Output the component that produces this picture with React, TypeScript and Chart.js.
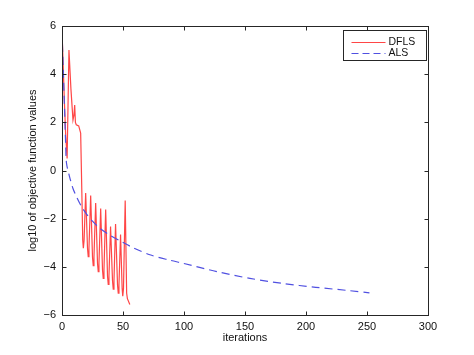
import React, { useEffect, useRef } from "react";
import { Chart, registerables } from "chart.js";

Chart.register(...registerables);

const seriesLabels = ["DFLS", "ALS"];
const xTitle = "iterations";
const yTitle = "log10 of objective function values";
const xTicks = [0, 50, 100, 150, 200, 250, 300];
const yTicks = [-6, -4, -2, 0, 2, 4, 6];

const dflsX = [
  0, 1, 2, 3, 4.2, 5.7, 7.3, 9.0, 9.8, 10.4, 11.0, 11.7, 13.7, 15.3, 16.3, 17.0, 17.5, 18.1,
  19.4, 20.9, 21.5, 22.1, 23.5, 25.0, 25.6, 26.2, 27.6, 29.1, 29.7, 30.3, 31.7, 33.2, 33.8, 34.4,
  35.8, 37.3, 37.9, 38.5, 39.8, 41.4, 42.0, 42.6, 43.9, 45.5, 46.1, 46.7, 48.0, 49.3, 49.8, 50.4,
  51.8, 53.0, 53.6, 55.6,
];
const dflsY = [
  5.8, 4.3, 2.8, 1.5, 0.5, 5.0, 3.4, 2.1, 2.3, 2.72, 2.0, 1.9, 1.85, 1.55, -1.0, -2.9, -3.23, -2.9,
  -0.94, -3.23, -3.58, -3.23, -1.04, -3.6, -3.95, -3.6, -1.35, -3.85, -4.2, -3.85, -1.58, -4.13, -4.48, -4.13,
  -1.62, -4.38, -4.73, -4.38, -2.33, -4.58, -4.93, -4.58, -2.22, -4.74, -5.09, -4.74, -2.66, -4.9, -5.22, -4.9,
  -1.25, -5.1, -5.32, -5.56,
];

const alsX = [0, 1, 2, 3, 3.7, 6, 9, 12, 16, 20, 25, 31, 39, 49, 58, 72, 88, 100, 127, 154, 181, 208, 236, 252];
const alsY = [
  5.8, 4.2, 2.7, 1.1, 0.3, -0.22, -0.75, -1.1, -1.5, -1.8, -2.1, -2.4, -2.68, -2.96, -3.2, -3.5, -3.72,
  -3.86, -4.2, -4.48, -4.69, -4.85, -4.99, -5.08,
];

const FONT = "'Liberation Sans', Arial, Helvetica, sans-serif";
const RED = "rgb(255,70,70)";
const BLUE = "rgb(80,80,225)";

const framePlugin = {
  id: "matlabFrame",
  afterDatasetsDraw(chart: any) {
    const { ctx, chartArea: a, scales } = chart;
    ctx.save();
    const L = Math.round(a.left) + 0.5;
    const R = Math.round(a.right) + 0.5;
    const T = Math.round(a.top) + 0.5;
    const B = Math.round(a.bottom) + 0.5;
    ctx.strokeStyle = "#262626";
    ctx.lineWidth = 1;
    ctx.setLineDash([]);
    ctx.strokeRect(L, T, R - L, B - T);
    const tl = 4;
    ctx.beginPath();
    for (const v of xTicks) {
      const px = Math.round(scales.x.getPixelForValue(v)) + 0.5;
      if (Math.abs(px - L) < 2 || Math.abs(px - R) < 2) continue;
      ctx.moveTo(px, B);
      ctx.lineTo(px, B - tl);
      ctx.moveTo(px, T);
      ctx.lineTo(px, T + tl);
    }
    for (const v of yTicks) {
      const py = Math.round(scales.y.getPixelForValue(v)) + 0.5;
      if (Math.abs(py - T) < 2 || Math.abs(py - B) < 2) continue;
      ctx.moveTo(L, py);
      ctx.lineTo(L + tl, py);
      ctx.moveTo(R, py);
      ctx.lineTo(R - tl, py);
    }
    ctx.stroke();

    // legend
    const boxR = R - 2;
    const boxL = boxR - 83;
    const boxT = T + 4;
    const boxH = 30;
    ctx.fillStyle = "#fff";
    ctx.fillRect(boxL, boxT, boxR - boxL, boxH);
    ctx.strokeStyle = "#262626";
    ctx.strokeRect(boxL, boxT, boxR - boxL, boxH);
    const rows = [
      { label: seriesLabels[0], color: RED, dash: [] as number[], y: boxT + 12 },
      { label: seriesLabels[1], color: BLUE, dash: [7, 4], y: boxT + 23 },
    ];
    ctx.font = `10.5px ${FONT}`;
    ctx.textBaseline = "middle";
    ctx.textAlign = "left";
    for (const r of rows) {
      ctx.beginPath();
      ctx.strokeStyle = r.color;
      ctx.lineWidth = 1.2;
      ctx.setLineDash(r.dash);
      ctx.moveTo(boxL + 8, r.y);
      ctx.lineTo(boxL + 42, r.y);
      ctx.stroke();
      ctx.setLineDash([]);
      ctx.fillStyle = "#111";
      ctx.fillText(r.label, boxL + 45, r.y);
    }
    ctx.restore();
  },
};

export default function App() {
  const ref = useRef<HTMLCanvasElement | null>(null);
  useEffect(() => {
    document.body.style.margin = "0";
    const canvas = ref.current;
    if (!canvas) return;
    const dfls = dflsX.map((x, i) => ({ x, y: dflsY[i] }));
    const als = alsX.map((x, i) => ({ x, y: alsY[i] }));
    const chart = new Chart(canvas, {
      type: "line",
      data: {
        datasets: [
          {
            label: seriesLabels[0],
            data: dfls,
            borderColor: RED,
            borderWidth: 1.2,
            pointRadius: 0,
            tension: 0,
            order: 2,
          },
          {
            label: seriesLabels[1],
            data: als,
            borderColor: BLUE,
            borderWidth: 1.2,
            borderDash: [8, 5],
            pointRadius: 0,
            tension: 0.3,
            order: 1,
          },
        ],
      },
      options: {
        animation: false,
        responsive: false,
        devicePixelRatio: 1,
        layout: { padding: { left: 0, right: 46, top: 26, bottom: 0 } },
        plugins: { legend: { display: false }, tooltip: { enabled: false } },
        scales: {
          x: {
            type: "linear",
            min: 0,
            max: 300,
            afterFit: (s: any) => {
              s.height = 40;
            },
            afterBuildTicks: (s: any) => {
              s.ticks = xTicks.map((v) => ({ value: v }));
            },
            grid: { display: false, drawTicks: false },
            border: { display: false },
            ticks: {
              padding: 5,
              color: "#111",
              font: { family: FONT, size: 11 },
              maxRotation: 0,
              callback: (v: any) => String(v),
            },
            title: {
              display: true,
              text: xTitle,
              color: "#111",
              font: { family: FONT, size: 11 },
              padding: { top: 0, bottom: 10 },
            },
          },
          y: {
            type: "linear",
            min: -6,
            max: 6,
            afterFit: (s: any) => {
              s.width = 62;
            },
            afterBuildTicks: (s: any) => {
              s.ticks = yTicks.map((v) => ({ value: v }));
            },
            grid: { display: false, drawTicks: false },
            border: { display: false },
            ticks: {
              padding: 6,
              color: "#111",
              font: { family: FONT, size: 11 },
              callback: (v: any) => (Number(v) < 0 ? "\u2212" + Math.abs(Number(v)) : String(v)),
            },
            title: {
              display: true,
              text: yTitle,
              color: "#111",
              font: { family: FONT, size: 11 },
              padding: { top: 26, bottom: 0 },
            },
          },
        },
      },
      plugins: [framePlugin],
    });
    return () => chart.destroy();
  }, []);
  return (
    <div style={{ width: 474, height: 355, background: "#fff" }}>
      <canvas ref={ref} width={474} height={355} style={{ display: "block", width: 474, height: 355 }} />
    </div>
  );
}
